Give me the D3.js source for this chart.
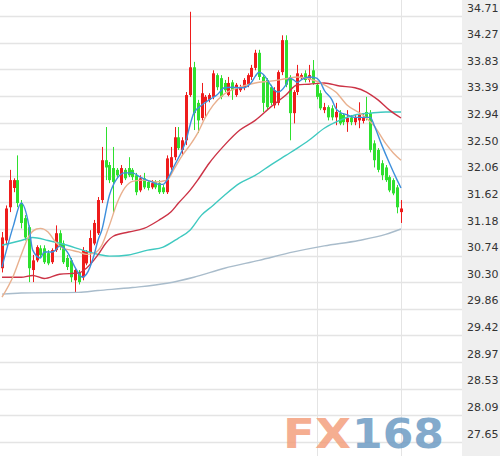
<!DOCTYPE html>
<html>
<head>
<meta charset="utf-8">
<script src="https://cdn.jsdelivr.net/npm/d3@7"></script>
<style>
  body { margin: 0; background: #fff; }
  .axis text { font-family: 'DejaVu Sans', Verdana, sans-serif; font-size: 11px; fill: #333; }
</style>
</head>
<body>
<div class="container"></div>
<script>
const width = 500;
const height = 456;
const plotRight = 462;

// y tick labels on the right panel
const tickLabels = [34.71, 34.27, 33.83, 33.39, 32.94, 32.50, 32.06, 31.62, 31.18, 30.74, 30.30, 29.86, 29.42, 28.97, 28.53, 28.09, 27.65];

// candles: [open, high, low, close]
const candles = [
  [30.53, 31.13, 30.46, 31.04], [30.99, 31.57, 30.91, 31.52], [31.54, 32.16, 31.46, 31.99], [31.86, 32.02, 31.79, 31.99],
  [31.99, 32.40, 31.54, 31.61], [31.61, 31.66, 31.19, 31.28], [31.36, 31.41, 30.99, 31.04], [31.21, 31.24, 30.30, 30.53],
  [30.50, 30.75, 30.30, 30.66], [30.66, 30.91, 30.63, 30.88], [30.86, 30.91, 30.70, 30.75], [30.86, 30.91, 30.60, 30.63],
  [30.78, 30.83, 30.58, 30.61], [30.63, 30.86, 30.60, 30.83], [30.83, 31.24, 30.80, 31.11], [31.11, 31.16, 30.83, 30.88],
  [30.94, 30.99, 30.60, 30.63], [30.70, 30.75, 30.50, 30.55], [30.66, 30.70, 30.30, 30.38], [30.33, 30.53, 30.13, 30.50],
  [30.46, 30.50, 30.26, 30.30], [30.38, 30.88, 30.33, 30.83], [30.61, 30.83, 30.58, 30.80], [30.78, 31.16, 30.58, 31.03],
  [30.94, 31.33, 30.91, 31.28], [31.11, 31.71, 31.08, 31.66], [31.66, 32.54, 31.61, 32.32], [32.32, 32.87, 31.99, 32.20],
  [32.24, 32.29, 31.94, 31.99], [32.19, 32.54, 31.44, 31.96], [32.16, 32.19, 32.02, 32.07], [31.94, 32.24, 31.91, 32.19],
  [32.16, 32.19, 31.99, 32.02], [32.19, 32.37, 32.04, 32.07], [32.16, 32.19, 31.99, 32.04], [32.07, 32.11, 31.74, 31.79],
  [31.82, 32.07, 31.79, 32.02], [32.02, 32.11, 31.84, 31.87], [31.96, 31.99, 31.82, 31.86], [31.87, 31.99, 31.84, 31.94],
  [31.96, 31.99, 31.84, 31.87], [31.94, 31.99, 31.76, 31.79], [31.87, 31.91, 31.76, 31.79], [31.79, 32.40, 31.76, 32.35],
  [32.20, 32.54, 32.16, 32.37], [32.37, 32.87, 32.32, 32.70], [32.70, 32.87, 32.49, 32.52], [32.49, 32.70, 32.40, 32.65],
  [32.65, 33.45, 32.57, 33.40], [33.40, 34.78, 33.37, 33.86], [33.86, 33.95, 32.82, 33.10], [33.27, 33.32, 32.77, 32.98],
  [33.02, 33.60, 32.98, 33.43], [33.28, 33.40, 33.02, 33.37], [33.32, 33.43, 33.28, 33.40], [33.37, 33.81, 33.33, 33.76],
  [33.73, 33.76, 33.48, 33.53], [33.68, 33.73, 33.33, 33.37], [33.60, 33.65, 33.45, 33.48], [33.40, 33.70, 33.38, 33.60],
  [33.61, 33.65, 33.32, 33.48], [33.40, 33.60, 33.37, 33.57], [33.48, 33.57, 33.45, 33.53], [33.52, 33.68, 33.48, 33.65],
  [33.57, 33.76, 33.53, 33.73], [33.70, 33.90, 33.65, 33.85], [33.85, 34.15, 33.81, 34.10], [34.10, 34.15, 33.65, 33.70],
  [33.70, 33.73, 33.12, 33.27], [33.65, 33.68, 33.15, 33.20], [33.53, 33.57, 33.23, 33.27], [33.23, 33.53, 33.18, 33.48],
  [33.27, 33.81, 33.23, 33.78], [33.78, 34.39, 33.73, 34.31], [34.31, 34.39, 33.53, 33.57], [33.70, 33.73, 32.65, 33.10],
  [33.10, 33.48, 32.93, 33.45], [33.45, 33.90, 33.40, 33.76], [33.68, 33.76, 33.65, 33.73], [33.76, 33.81, 33.61, 33.65],
  [33.65, 33.90, 33.61, 33.73], [33.81, 33.98, 33.57, 33.60], [33.57, 33.60, 33.33, 33.37], [33.43, 33.48, 33.15, 33.18],
  [33.15, 33.27, 33.10, 33.20], [33.20, 33.23, 32.98, 33.03], [33.18, 33.23, 32.98, 33.03], [33.03, 33.27, 32.90, 33.12],
  [33.10, 33.15, 32.90, 32.93], [33.07, 33.10, 32.90, 32.95], [32.95, 33.15, 32.79, 33.02], [33.03, 33.07, 32.90, 32.95],
  [32.95, 33.07, 32.90, 33.02], [32.98, 33.28, 32.85, 33.07], [32.97, 33.10, 32.93, 33.03], [33.12, 33.37, 32.98, 33.02],
  [33.10, 33.15, 32.45, 32.49], [32.60, 32.65, 32.20, 32.32], [32.49, 32.52, 32.12, 32.16], [32.27, 32.32, 31.99, 32.07],
  [32.20, 32.24, 31.96, 31.99], [32.04, 32.07, 31.79, 31.82], [31.99, 32.02, 31.74, 31.77], [31.87, 31.91, 31.44, 31.54],
  [31.46, 31.66, 31.28, 31.52]
];

// moving averages: [candle index, value]
const maBlue = [[0, 30.55], [3, 31.24], [5, 31.61], [7, 31.24], [8, 30.83], [10, 30.70], [11, 30.80], [13, 30.80], [14, 30.83],
  [15, 30.90], [17, 30.80], [19, 30.55], [21, 30.38], [22, 30.43], [24, 30.75], [25, 30.99], [26, 31.16], [28, 31.74], [30, 32.02],
  [32, 32.11], [34, 32.11], [36, 32.04], [39, 31.96], [41, 31.92], [42, 31.92], [43, 31.99], [45, 32.24], [47, 32.49], [48, 32.65],
  [49, 32.90], [50, 33.10], [52, 33.23], [54, 33.32], [56, 33.40], [58, 33.52], [60, 33.53], [62, 33.52], [63, 33.52], [65, 33.61],
  [66, 33.71], [67, 33.78], [68, 33.75], [70, 33.57], [71, 33.48], [72, 33.45], [74, 33.57], [75, 33.68], [76, 33.65], [77, 33.61],
  [78, 33.65], [80, 33.70], [82, 33.68], [83, 33.61], [84, 33.48], [86, 33.32], [87, 33.18], [88, 33.12], [90, 33.07], [92, 33.03],
  [94, 33.03], [96, 33.03], [97, 32.90], [99, 32.57], [101, 32.27], [103, 31.99], [104, 31.86]];
const maTan = [[0, 30.05], [3, 30.41], [5, 30.75], [7, 31.06], [9, 31.18], [10, 31.19], [12, 31.13], [14, 30.96], [16, 30.86],
  [18, 30.83], [20, 30.80], [22, 30.76], [24, 30.78], [26, 30.91], [28, 31.24], [30, 31.61], [32, 31.86], [34, 31.97], [37, 31.99],
  [40, 31.96], [43, 31.99], [45, 32.19], [47, 32.40], [49, 32.57], [51, 32.77], [53, 33.03], [55, 33.23], [58, 33.42], [62, 33.53],
  [66, 33.60], [70, 33.63], [74, 33.67], [77, 33.70], [80, 33.67], [84, 33.57], [87, 33.45], [90, 33.23], [94, 33.07], [97, 32.89],
  [100, 32.60], [102, 32.44], [104, 32.32]];
const maRed = [[0, 30.38], [5, 30.38], [8, 30.41], [11, 30.36], [15, 30.43], [20, 30.45], [22, 30.53], [25, 30.75], [27, 30.94],
  [29, 31.06], [33, 31.13], [37, 31.19], [41, 31.33], [44, 31.46], [46, 31.61], [49, 31.82], [51, 31.99], [54, 32.27], [58, 32.57],
  [62, 32.82], [66, 32.98], [70, 33.20], [74, 33.40], [77, 33.57], [80, 33.58], [84, 33.60], [88, 33.55], [92, 33.52], [95, 33.45],
  [98, 33.32], [101, 33.15], [104, 33.02]];
const maCyan = [[0, 30.91], [5, 30.99], [8, 31.04], [12, 30.99], [17, 30.91], [21, 30.83], [25, 30.76], [28, 30.73], [33, 30.75],
  [38, 30.83], [42, 30.88], [46, 31.03], [49, 31.16], [52, 31.41], [55, 31.57], [58, 31.74], [62, 31.94], [66, 32.07], [70, 32.24],
  [74, 32.40], [77, 32.52], [80, 32.65], [84, 32.85], [88, 32.98], [92, 33.07], [96, 33.10], [100, 33.12], [104, 33.12]];
const maGrey = [[0, 30.10], [5, 30.12], [20, 30.13], [25, 30.16], [34, 30.21], [43, 30.28], [50, 30.38], [58, 30.53], [67, 30.66],
  [76, 30.80], [84, 30.90], [93, 30.99], [100, 31.09], [104, 31.18]];

const vGridIdx = [82, 104];

const xScale = d3.scaleLinear()
  .domain([0, candles.length - 1])
  .range([2, 401]);
const yScale = d3.scaleLinear()
  .domain([27.65, 34.71])
  .range([442, 16]);

const svg = d3.select('.container')
  .append('svg')
  .attr('width', width)
  .attr('height', height);

// right axis panel
svg.append('rect')
  .attr('x', plotRight)
  .attr('y', 0)
  .attr('width', width - plotRight)
  .attr('height', height)
  .attr('fill', '#efefef');

// horizontal grid
svg.selectAll('.hgrid')
  .data(tickLabels)
  .enter()
  .append('line')
  .attr('x1', 0)
  .attr('x2', plotRight)
  .attr('y1', d => Math.round(yScale(d)) + 0.5)
  .attr('y2', d => Math.round(yScale(d)) + 0.5)
  .attr('stroke', '#e4e4e4')
  .attr('stroke-width', 1.5);

// vertical grid
svg.selectAll('.vgrid')
  .data(vGridIdx)
  .enter()
  .append('line')
  .attr('x1', d => Math.round(xScale(d)) + 0.5)
  .attr('x2', d => Math.round(xScale(d)) + 0.5)
  .attr('y1', 0)
  .attr('y2', height)
  .attr('stroke', '#e4e4e4');

// watermark
svg.append('text')
  .attr('x', 283)
  .attr('y', 448)
  .attr('textLength', 68)
  .attr('lengthAdjust', 'spacingAndGlyphs')
  .attr('font-family', 'DejaVu Sans')
  .attr('font-weight', 'bold')
  .attr('font-size', 40)
  .attr('fill', '#f4a07e')
  .attr('opacity', 0.85)
  .text('FX');
svg.append('text')
  .attr('x', 352)
  .attr('y', 448)
  .attr('textLength', 92)
  .attr('lengthAdjust', 'spacingAndGlyphs')
  .attr('font-family', 'DejaVu Sans')
  .attr('font-weight', 'bold')
  .attr('font-size', 40)
  .attr('fill', '#6e9cc4')
  .attr('opacity', 0.85)
  .text('168');

// moving average lines
const line = d3.line()
  .x(d => xScale(d[0]))
  .y(d => yScale(d[1]))
  .curve(d3.curveMonotoneX);

const maSeries = [
  { data: maGrey, color: '#a9bccb' },
  { data: maCyan, color: '#3fc9c0' },
  { data: maRed, color: '#cc3346' },
  { data: maTan, color: '#e9b08e' },
  { data: maBlue, color: '#3d8fdc' }
];

// candles
const bodyW = 3;
const up = d => d[3] >= d[0];
const candle = svg.selectAll('.candle')
  .data(candles)
  .enter()
  .append('g');

candle.append('line')
  .attr('x1', (d, i) => Math.round(xScale(i)) + 0.5)
  .attr('x2', (d, i) => Math.round(xScale(i)) + 0.5)
  .attr('y1', d => yScale(d[1]))
  .attr('y2', d => yScale(d[2]))
  .attr('stroke', d => up(d) ? '#ee1c1c' : '#2ee02e');

candle.append('rect')
  .attr('x', (d, i) => Math.round(xScale(i)) - 1)
  .attr('y', d => yScale(Math.max(d[0], d[3])))
  .attr('width', bodyW)
  .attr('height', d => Math.max(2, Math.abs(yScale(d[0]) - yScale(d[3]))))
  .attr('fill', d => up(d) ? '#ee1c1c' : '#2ee02e');

svg.selectAll('.ma')
  .data(maSeries)
  .enter()
  .append('path')
  .attr('d', d => line(d.data))
  .attr('fill', 'none')
  .attr('stroke', d => d.color)
  .attr('stroke-width', 1.4);

// right axis labels, sitting above each grid line
const yAxis = d3.axisRight(yScale)
  .tickValues(tickLabels)
  .tickSize(0)
  .tickFormat(d3.format('.2f'));
const axisG = svg.append('g')
  .attr('class', 'axis')
  .attr('transform', `translate(${plotRight + 2}, 0)`)
  .call(yAxis);
axisG.select('.domain').remove();
axisG.selectAll('text')
  .attr('dy', '-0.45em');
</script>
</body>
</html>
